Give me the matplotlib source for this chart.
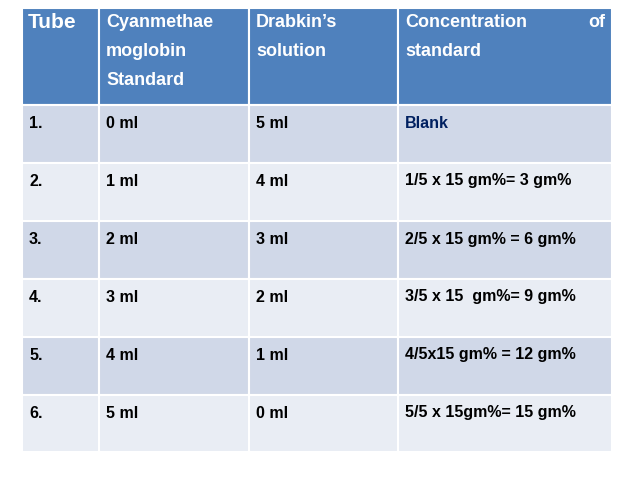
import matplotlib
matplotlib.use("Agg")
import matplotlib.pyplot as plt
from matplotlib.patches import Rectangle

headers = [["Tube"], ["Cyanmethae", "moglobin", "Standard"], ["Drabkin’s", "solution"], ["Concentration", "standard"]]
tubes = ["1.", "2.", "3.", "4.", "5.", "6."]
standard = ["0 ml", "1 ml", "2 ml", "3 ml", "4 ml", "5 ml"]
drabkin = ["5 ml", "4 ml", "3 ml", "2 ml", "1 ml", "0 ml"]
conc = ["Blank", "1/5 x 15 gm%= 3 gm%", "2/5 x 15 gm% = 6 gm%", "3/5 x 15  gm%= 9 gm%",
        "4/5x15 gm% = 12 gm%", "5/5 x 15gm%= 15 gm%"]

W, H = 638, 478
fig = plt.figure(figsize=(W/100, H/100), dpi=100)
ax = fig.add_axes([0, 0, 1, 1])
ax.set_xlim(0, W); ax.set_ylim(H, 0); ax.axis("off")

cols = [22, 99, 249, 398, 612]
rows = [8, 105, 163, 221, 279, 337, 395, 452]
font = "Liberation Sans"

def cell(c, r, color):
    ax.add_patch(Rectangle((cols[c], rows[r]), cols[c+1]-cols[c], rows[r+1]-rows[r],
                           facecolor=color, edgecolor="white", linewidth=1.5))

for c in range(4):
    cell(c, 0, "#4F81BD")
for r in range(1, 7):
    col = "#D0D8E8" if r % 2 == 1 else "#E9EDF4"
    for c in range(4):
        cell(c, r, col)

# header text
ax.text(cols[0]+6, 22, "Tube", fontsize=15, fontweight="bold", color="white", family=font, va="center")
for c in range(1, 4):
    for i, line in enumerate(headers[c]):
        ax.text(cols[c]+7, 22 + i*29, line, fontsize=13, fontweight="bold", color="white", family=font, va="center")
ax.text(cols[4]-7, 22, "of", fontsize=13, fontweight="bold", color="white", family=font, va="center", ha="right")

for r in range(6):
    y = rows[r+1] + 18
    vals = [tubes[r], standard[r], drabkin[r], conc[r]]
    for c in range(4):
        color = "#002060" if (c == 3 and r == 0) else "black"
        ax.text(cols[c]+7, y, vals[c], fontsize=11.5, fontweight="bold", color=color, family=font, va="center")

fig.savefig("out.png", dpi=100, facecolor="white")
